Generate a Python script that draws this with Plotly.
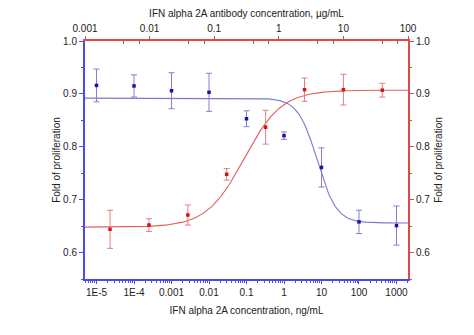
import numpy as np
import plotly.graph_objects as go

# IFN alpha 2A (bottom axis, ng/mL) -> blue, left axis
ifn_conc = [1e-5, 1e-4, 1e-3, 1e-2, 0.1, 1, 10, 100, 1000]
ifn_fold = [0.916, 0.915, 0.906, 0.903, 0.853, 0.821, 0.761, 0.658, 0.651]
ifn_err = [0.031, 0.021, 0.034, 0.036, 0.015, 0.007, 0.037, 0.022, 0.037]

# antibody (top axis, ug/mL) -> red, right axis
ab_conc = [0.00244, 0.00977, 0.0391, 0.156, 0.625, 2.5, 10, 40]
ab_fold = [0.644, 0.652, 0.671, 0.748, 0.837, 0.908, 0.908, 0.907]
ab_err = [0.036, 0.012, 0.019, 0.011, 0.032, 0.022, 0.029, 0.013]

# 4PL fit parameters: bottom, top, EC50, hill
ifn_fit = [0.656, 0.892, 7.7, 1.7]
ab_fit = [0.648, 0.907, 0.29, 1.5]

x_ticks_bottom = [1e-5, 1e-4, 1e-3, 1e-2, 0.1, 1, 10, 100, 1000]
x_ticklabels_bottom = ["1E-5", "1E-4", "0.001", "0.01", "0.1", "1", "10", "100", "1000"]
x_ticks_top = [0.001, 0.01, 0.1, 1, 10, 100]
x_ticklabels_top = ["0.001", "0.01", "0.1", "1", "10", "100"]
y_ticks = [0.6, 0.7, 0.8, 0.9, 1.0]
y_ticklabels = ["0.6", "0.7", "0.8", "0.9", "1.0"]

BLUE_AX = "#4a4aee"
RED_AX = "#e04848"
FONT = "Liberation Sans, Arial, sans-serif"


def fourpl(x, p):
    b, t, ec, h = p
    return b + (t - b) / (1 + (x / ec) ** h)


def fourpl_up(x, p):
    b, t, ec, h = p
    return b + (t - b) / (1 + (ec / x) ** h)


xb_range = [-5.307, 3.307]
xt_range = [-3, 2]
xb = np.logspace(xb_range[0], xb_range[1], 400)
xt = np.logspace(xt_range[0], xt_range[1], 400)

fig = go.Figure()
fig.add_trace(go.Scatter(x=xb, y=fourpl(xb, ifn_fit), mode="lines",
                         line=dict(color="#7a7ad0", width=1.1), xaxis="x", yaxis="y",
                         hoverinfo="skip"))
fig.add_trace(go.Scatter(x=xt, y=fourpl_up(xt, ab_fit), mode="lines",
                         line=dict(color="#e06060", width=1.1), xaxis="x2", yaxis="y2",
                         hoverinfo="skip"))
fig.add_trace(go.Scatter(x=ifn_conc, y=ifn_fold, mode="markers",
                         marker=dict(symbol="square", size=3.5, color="#1515a5"),
                         error_y=dict(type="data", array=ifn_err, color="#8080d0",
                                      thickness=1, width=3),
                         xaxis="x", yaxis="y"))
fig.add_trace(go.Scatter(x=ab_conc, y=ab_fold, mode="markers",
                         marker=dict(symbol="square", size=3.5, color="#d01515"),
                         error_y=dict(type="data", array=ab_err, color="#e08080",
                                      thickness=1, width=3),
                         xaxis="x2", yaxis="y2"))


def minor_log(lo, hi):
    vals = []
    for d in range(int(np.floor(lo)) - 1, int(np.ceil(hi)) + 1):
        for m in range(2, 10):
            v = m * 10.0 ** d
            if 10 ** lo <= v <= 10 ** hi:
                vals.append(v)
    return vals


yminor = [0.55, 0.65, 0.75, 0.85, 0.95]

fig.update_layout(
    width=474, height=335,
    margin=dict(l=85, r=66, t=38, b=56),
    paper_bgcolor="white", plot_bgcolor="white",
    showlegend=False,
    font=dict(family=FONT, size=10, color="#222"),
    xaxis=dict(type="log", range=xb_range, tickvals=x_ticks_bottom,
               ticktext=x_ticklabels_bottom, showgrid=False, zeroline=False,
               showline=True, linecolor=BLUE_AX, linewidth=2, ticks="outside",
               ticklen=3, tickcolor=BLUE_AX,
               minor=dict(tickvals=minor_log(*xb_range), ticks="outside", ticklen=2,
                          tickcolor=BLUE_AX, showgrid=False),
               title=dict(text="IFN alpha 2A concentration, ng/mL", standoff=10,
                          font=dict(size=10))),
    xaxis2=dict(type="log", range=xt_range, overlaying="x", side="top",
                tickvals=x_ticks_top, ticktext=x_ticklabels_top, showgrid=False,
                zeroline=False, showline=True, linecolor=RED_AX, linewidth=2,
                ticks="outside", ticklen=3, tickcolor=RED_AX,
                minor=dict(tickvals=[0.004, 0.007, 0.04, 0.07, 0.4, 0.7, 4, 7, 40, 70],
                           ticks="inside", ticklen=3, tickcolor=RED_AX, showgrid=False),
                title=dict(text="IFN alpha 2A antibody concentration, µg/mL", standoff=4,
                           font=dict(size=10))),
    yaxis=dict(range=[0.55, 1.0], tickvals=y_ticks, ticktext=y_ticklabels,
               showgrid=False, zeroline=False, showline=True, linecolor=BLUE_AX,
               linewidth=2, ticks="outside", ticklen=4, tickcolor=BLUE_AX,
               minor=dict(tickvals=yminor, ticks="outside", ticklen=2,
                          tickcolor=BLUE_AX, showgrid=False),
               title=dict(text="Fold of proliferation", standoff=1, font=dict(size=10))),
    yaxis2=dict(range=[0.55, 1.0], overlaying="y", side="right", tickvals=y_ticks,
                ticktext=y_ticklabels, showgrid=False, zeroline=False, showline=True,
                linecolor=RED_AX, linewidth=2, ticks="outside", ticklen=4,
                tickcolor=RED_AX,
                minor=dict(tickvals=yminor, ticks="outside", ticklen=2,
                           tickcolor=RED_AX, showgrid=False),
                title=dict(text="Fold of proliferation", standoff=6, font=dict(size=10))),
)

fig.write_html("out.html")
